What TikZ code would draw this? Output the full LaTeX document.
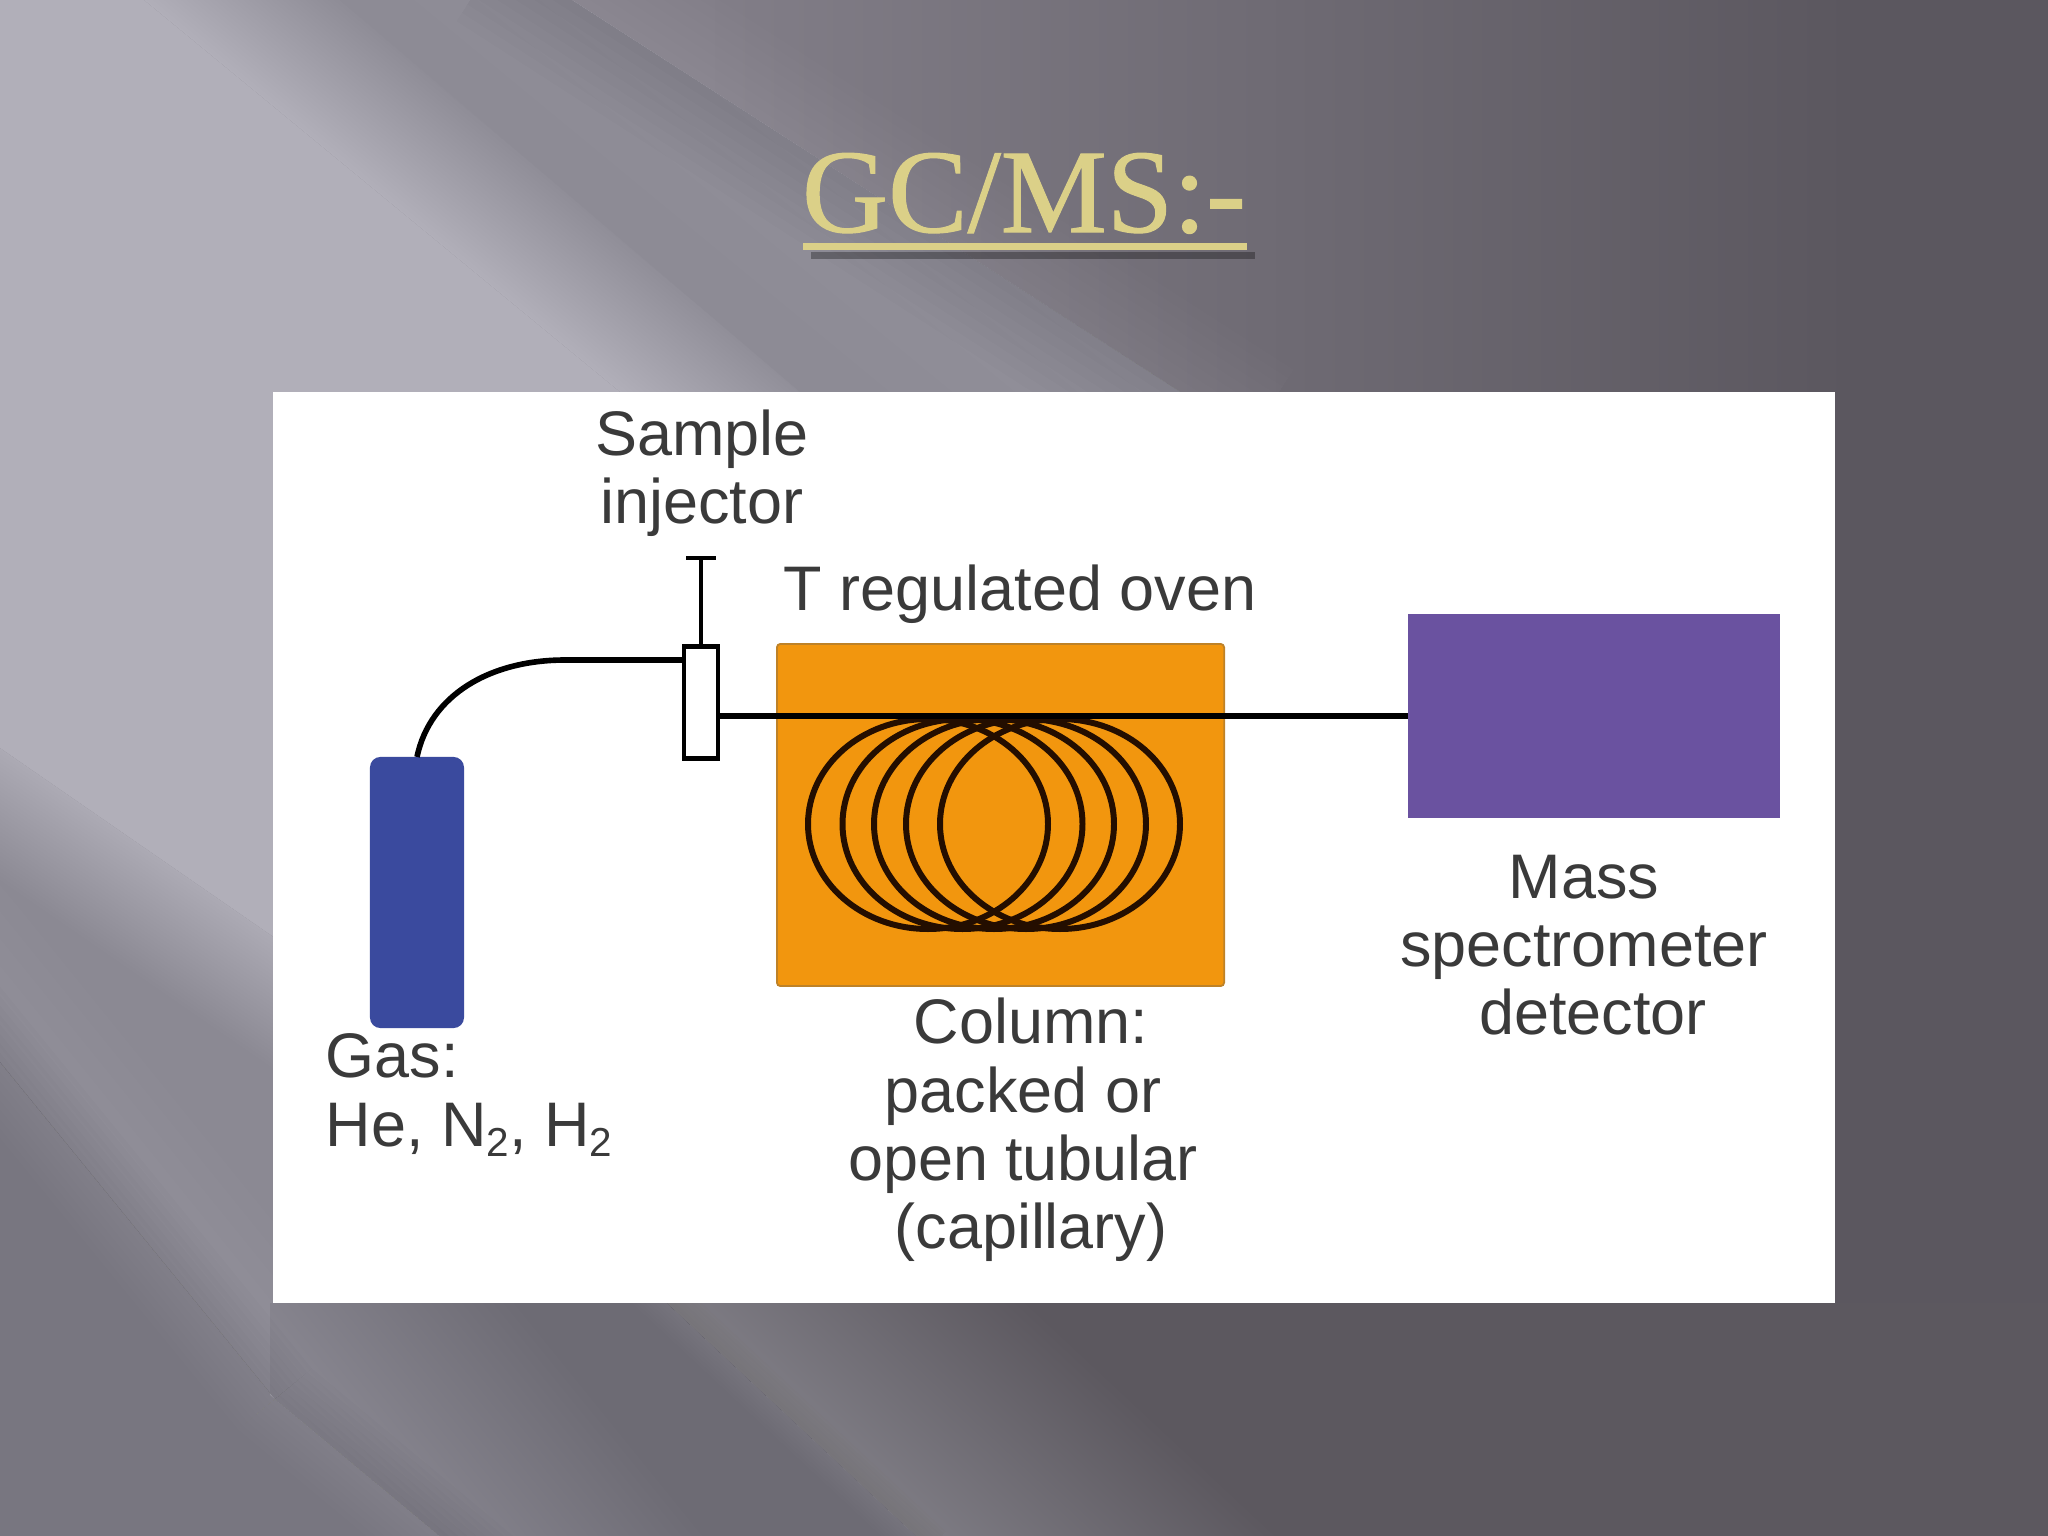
\documentclass[tikz,border=0pt]{standalone}
\usepackage{fontspec}
\setmainfont{Liberation Sans}
\newfontfamily\titlefont[FakeBold=0.9]{Liberation Serif}
\definecolor{colA}{RGB}{0,0,0}
\definecolor{colB}{RGB}{255,255,255}
\definecolor{plateau}{RGB}{177,175,185}
\definecolor{gold}{RGB}{219,208,136}
\definecolor{ovencol}{RGB}{242,150,14}
\definecolor{ovenedge}{RGB}{190,130,40}
\definecolor{gascol}{RGB}{58,74,158}
\definecolor{detcol}{RGB}{106,82,160}
\definecolor{labelcol}{RGB}{58,58,58}
\definecolor{coilcol}{RGB}{36,14,0}
\pgfdeclarehorizontalshading[colA,colB]{rayshade}{100bp}{
  color(0bp)=(colA); color(48bp)=(colA); color(52bp)=(colB); color(100bp)=(colB)}
% polygon, centre x, centre y, ramp width, angle, start colour, end colour
\newcommand{\raypatch}[7]{%
  \begin{scope}
    \clip #1;
    \definecolor{colA}{HTML}{#6}\definecolor{colB}{HTML}{#7}%
    \pgfmathsetmacro\halfS{6.25*#4}%
    \shade[shading=rayshade, shading angle=#5]
      ({#2-\halfS},{#3-\halfS}) rectangle ({#2+\halfS},{#3+\halfS});
  \end{scope}}
% soften an edge: end points, step towards the darker side, opacities
\newcommand{\softedge}[8]{%
  \foreach \d in {1,...,8}{%
    \fill[white,opacity=#7] (#1,#2) -- (#3,#4) -- ({#3+\d*#5},{#4+\d*#6}) -- ({#1+\d*#5},{#2+\d*#6}) -- cycle;
    \fill[black,opacity=#8] (#1,#2) -- (#3,#4) -- ({#3-\d*#5},{#4-\d*#6}) -- ({#1-\d*#5},{#2-\d*#6}) -- cycle;
  }}
\tikzset{
  x=0.01cm, y=-0.01cm,
  lbl/.style={font=\fontsize{17.9}{19.4}\selectfont, text=labelcol, align=center, inner sep=0pt},
  part/.style={inner sep=0pt, outer sep=0pt},
  pipe/.style={draw=black, line width=1.6pt},
  coil/.style={draw=coilcol, line width=1.7pt},
  titletxt/.style={font=\titlefont\fontsize{33.9}{36}\selectfont, inner sep=0pt, anchor=base},
}
\newcommand{\lowtwo}{\raisebox{-0.3ex}{\fontsize{11.5}{12}\selectfont 2}}
\begin{document}
\begin{tikzpicture}
\useasboundingbox (0,0) rectangle (2048,1536);
\clip (0,0) rectangle (2048,1536);
% background: base and rays
\raypatch{(0,0) rectangle (2048,1536)}{1275}{768}{1150}{0}{827E88}{5B575F}
\raypatch{(144,0) -- (572,0) -- (1180,392) -- (620,392) -- cycle}{423}{146}{130}{50.5}{B1AFB9}{8D8B95}
\raypatch{(340,0) -- (572,0) -- (1180,392) -- (800,392) -- cycle}{542}{2}{200}{50.5}{8D8B95}{92909A}
\softedge{500}{-46}{1250}{437}{5.4}{-8.4}{.012}{.012}
\fill[plateau] (0,0) -- (144,0) -- (620,392) -- (620,700) -- (275,938) -- (0,748) -- cycle;
\raypatch{(0,748) -- (275,938) -- (275,1399) -- (0,1062) -- cycle}{106}{888}{110}{235.4}{ACAAB4}{8B8993}
\raypatch{(0,885) -- (275,1210) -- (275,1399) -- (0,1062) -- cycle}{183}{1192}{120}{219}{8B8993}{92909A}
\fill[fill={rgb,255:red,120;green,118;blue,128}] (0,1062) -- (275,1399) -- (440,1536) -- (0,1536) -- cycle;
\raypatch{(270,1303) -- (667,1303) -- (916,1536) -- (440,1536) -- (270,1395) -- cycle}{372}{1320}{250}{39}{8C8A94}{6D6B74}
\raypatch{(667,1303) -- (916,1536) -- (2048,1536) -- (2048,1303) -- cycle}{875}{1329}{250}{47}{7F7D85}{5C585F}
\softedge{-50}{1001}{275}{1399}{-4.6}{3.8}{.012}{.012}
\softedge{275}{1399}{500}{1586}{-4.6}{3.8}{.012}{.012}
\softedge{640}{1278}{930}{1549}{-2}{2.2}{.008}{.006}
% title
\fill[black, opacity=.3] (811,252) rectangle (1255,259);
\node[titletxt, text=gold] (title) at (1024,232) {GC/MS:-};
\fill[gold] (803,243) rectangle (1247,250);
% panel
\fill[white] (273,392) rectangle (1835,1303);
% parts
\node[part, fill=ovencol, draw=ovenedge, line width=0.5pt, rounded corners=1pt, minimum width=4.47cm, minimum height=3.42cm] (oven) at (1000.5,815) {};
\node[part, fill=gascol, rounded corners=3pt, minimum width=0.94cm, minimum height=2.71cm] (gas) at (417,892.5) {};
\node[part, fill=detcol, minimum width=3.72cm, minimum height=2.04cm] (det) at (1594,716) {};
\node[part, draw=black, line width=1.4pt, fill=white, minimum width=0.34cm, minimum height=1.12cm] (inj) at (701,702.5) {};
% coil
\foreach \cx in {928,962.5,994,1026,1060}
  \draw[coil] (\cx,824) ellipse [x radius=120, y radius=105];
% connectors
\coordinate (needle) at (701,558);
\coordinate (capl) at (686,558);
\coordinate (capr) at (716,558);
\coordinate (gasin) at (inj.west |- 0,660);
\draw[pipe] (gas.north) .. controls (430,695) and (490,660) .. (565,660) -- (gasin);
\draw[pipe, line width=1.2pt] (inj.north) -- (needle);
\draw[pipe, line width=1.2pt] (capl) -- (capr);
\draw[pipe] (inj.east |- det.west) -- (det.west);
% labels
\node[lbl] (lsample) at (702,473) {Sample\\injector};
\node[lbl] (loven) at (1020,594) {T regulated oven};
\node[lbl] (lcolumn) at (1023,1130) {\hspace*{0.16cm}Column:\\packed or\\open tubular\\\hspace*{0.16cm}(capillary)};
\node[lbl] (lmass) at (1584,945) {Mass\\spectrometer\\\hspace*{0.18cm}detector};
\node[lbl, align=left, anchor=west] (lgas) at (325,1095) {Gas:\\He, N\lowtwo, H\lowtwo};
\end{tikzpicture}
\end{document}
